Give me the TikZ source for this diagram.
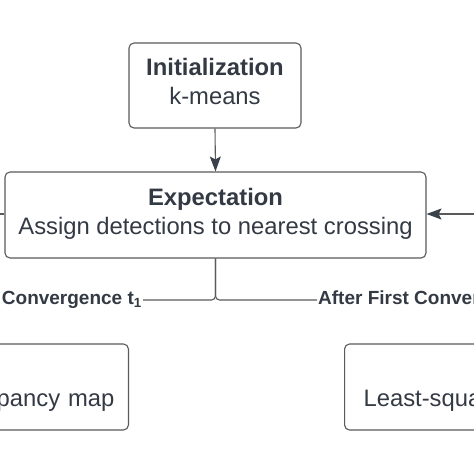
\documentclass[tikz,border=0pt]{standalone}
\usepackage{fontspec}
\setmainfont{Liberation Sans}
\usetikzlibrary{arrows.meta}
\definecolor{txt}{HTML}{333A44}
\definecolor{ln}{HTML}{5A5A5A}
\definecolor{tip}{HTML}{3A414A}
\newcommand{\dropdown}{\rule[-8pt]{0pt}{0pt}}
\begin{document}
\begin{tikzpicture}[x=1pt,y=-1pt,
  box/.style={draw=ln,line width=1.1pt,rounded corners=5pt,text=txt,align=center,inner sep=0pt},
  conn/.style={draw=ln,line width=1.1pt},
  arr/.style={conn,-{Stealth[length=15pt,width=11pt,inset=3pt,color=tip]}},
  lowbox/.style={box,minimum height=86pt,text width=215pt,text height=43pt,text depth=5pt,font=\fontsize{23.8}{25}\selectfont},
  lab/.style={text=txt,font=\fontsize{19}{20}\selectfont\bfseries,inner sep=1pt,fill=white}]
\useasboundingbox (0,0) rectangle (474,474);
\clip (0,0) rectangle (474,474);
\fill[white] (0,0) rectangle (474,474);
\node[box,minimum width=172pt,minimum height=85pt,font=\fontsize{23.8}{29}\selectfont] (init) at (215,85.5)
  {\textbf{Initialization}\\k-means\dropdown};
\node[box,minimum width=421pt,minimum height=86pt,font=\fontsize{23.8}{29}\selectfont] (exp) at (215.5,215)
  {\textbf{Expectation}\\Assign detections to nearest crossing\dropdown};
\node[lowbox,align=right,inner xsep=14pt,anchor=east] (occ) at (129,387)
  {Occupancy map};
\node[lowbox,align=left,inner xsep=19pt,anchor=west] (lsq) at (344,387)
  {Least-squares fit};
\node[lab,anchor=east] (l1) at (143,300) {Convergence t\textsubscript{1}};
\node[lab,anchor=west] (l2) at (317,300) {After First Convergence};
\coordinate (rin) at (480,214);
\coordinate (lout) at (-5,214);
\draw[arr] (init.south) -- (exp.north);
\draw[arr] (rin) -- (exp.east |- rin);
\draw[conn] (exp.west |- lout) -- (lout);
\draw[conn,rounded corners=4pt] (exp.south) |- (l1.east);
\draw[conn,rounded corners=4pt] (exp.south) |- (l2.west);
\end{tikzpicture}
\end{document}
